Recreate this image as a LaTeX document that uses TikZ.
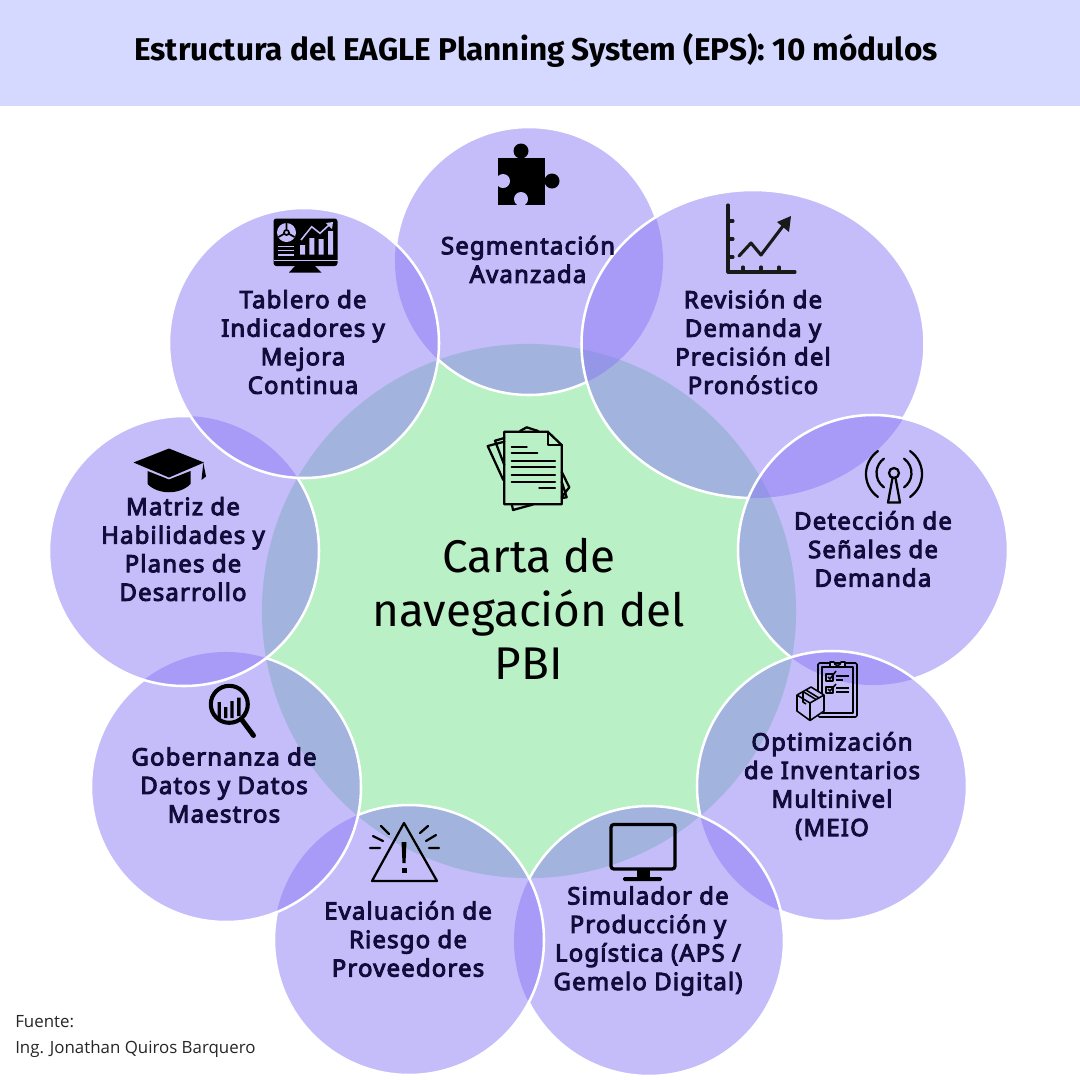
\documentclass[tikz,border=0pt]{standalone}
\usetikzlibrary{shapes.geometric}
\usepackage{fontspec}
\setmainfont{Fira Sans}
\newfontfamily\fuenteEtq[FakeBold=4,LetterSpace=5]{Noto Sans}
\newfontfamily\fuentePie{Open Sans}
\definecolor{banda}{HTML}{D6D9FF}
\definecolor{verde}{HTML}{BAF0C6}
\definecolor{lila}{HTML}{8B79F5}
\definecolor{lilaclaro}{HTML}{C5BCFA}
\definecolor{tinta}{HTML}{120C3A}
\newcommand{\haloon}{\special{pdf:bcolor [0.06 0.04 0.20] [0.36 0.27 0.88]}}
\newcommand{\halooff}{\special{pdf:ecolor}}
\tikzset{
	modulo/.style={circle, fill=lila, fill opacity=0.5, inner sep=0pt, minimum size=6.75cm},
	etiqueta/.style={align=center, text=tinta, font=\fuenteEtq\fontsize{17}{20.3}\selectfont, execute at begin node=\haloon, execute at end node=\halooff},
	icono/.style={line width=2.2pt, line join=round, line cap=round},
	fino/.style={line width=1.6pt, line join=round, line cap=round},
	borde/.style={white, line width=1.8pt}
}
\begin{document}
\begin{tikzpicture}[x=0.025cm, y=-0.025cm]
	\useasboundingbox (0,0) rectangle (1080,1080);
	\fill[banda] (0,0) rectangle (1080,106);
	\node[font=\bfseries\fontsize{22.4}{26}\selectfont] (titulo) at (536,50) {Estructura del EAGLE Planning System (EPS): 10 módulos};

	% circulo central y los nueve modulos
	\node[circle, fill=verde, inner sep=0pt, minimum size=13.35cm] (carta) at (529,611) {};
	\node[modulo, minimum size=6.7cm] (seg) at (529,261) {};
	\node[ellipse, fill=lila, fill opacity=0.5, inner sep=0pt, minimum width=8.58cm, minimum height=7.7cm] (rev) at (753,344) {};
	\node[modulo] (det) at (873,550) {};
	\node[modulo] (opt) at (832,786) {};
	\node[modulo] (sim) at (649,941) {};
	\node[modulo] (eva) at (409,940) {};
	\node[modulo] (gob) at (226,787) {};
	\node[modulo] (mat) at (184,551) {};
	\node[modulo] (tab) at (304,343) {};

	% bordes blancos, cada uno tapado por el circulo de encima
	\foreach \a/\b in {det/opt, opt/sim, sim/eva, eva/gob, gob/mat, mat/tab} {
		\begin{scope}[even odd rule]
			\clip (0,0) rectangle (1080,1080) (\b) circle (135);
			\draw[borde] (\a) circle (135);
		\end{scope}
	}
	\begin{scope}[even odd rule]
		\clip (0,0) rectangle (1080,1080) (det) circle (135);
		\draw[borde] (rev) ellipse (171.5 and 154);
	\end{scope}
	\begin{scope}[even odd rule]
		\clip (0,0) rectangle (1080,1080) (tab) circle (135);
		\clip (0,0) rectangle (1080,1080) (rev) ellipse (171.5 and 154);
		\draw[borde] (seg) circle (134);
	\end{scope}
	\draw[borde] (tab) circle (135);

	% textos
	\node[etiqueta] (tseg) at (528,259.5) {Segmentación\\Avanzada};
	\node[etiqueta] (trev) at (753,342) {Revisión de\\Demanda y\\Precisión del\\Pronóstico};
	\node[etiqueta] (tdet) at (873,549) {Detección de\\Señales de\\Demanda};
	\node[etiqueta] (topt) at (832,786) {Optimización\\de Inventarios\\Multinivel\\(MEIO};
	\node[etiqueta] (tsim) at (648,941) {Simulador de\\Producción y\\Logística (APS /\\Gemelo Digital)};
	\node[etiqueta] (teva) at (408,939) {Evaluación de\\Riesgo de\\Proveedores};
	\node[etiqueta] (tgob) at (224,785) {Gobernanza de\\Datos y Datos\\Maestros};
	\node[etiqueta] (tmat) at (183,549) {Matriz de\\Habilidades y\\Planes de\\Desarrollo};
	\node[etiqueta] (ttab) at (303,342) {Tablero de\\Indicadores y\\Mejora\\Continua};
	\node[align=center, font=\fontsize{32.6}{38.2}\selectfont] (tcarta) at (529,609) {Carta de\\navegación del\\PBI};
	\node[anchor=north west, align=left, inner sep=0pt, text=black!85, font=\fuentePie\fontsize{12}{18.6}\selectfont] (fuente) at (15,1015) {Fuente:\\Ing. Jonathan Quiros Barquero};

	% pieza de rompecabezas
	\fill (498,158) rectangle (545,205);
	\fill (521,151) circle (7.5);
	\fill (552,181) circle (7.5);
	\fill[lilaclaro] (503,181) circle (7) (521,199) circle (7);

	% grafica de revision
	\begin{scope}[icono, draw=black!90]
		\draw (728,205) -- (728,272) -- (795,272);
		\draw (728,221) -- (733,221) (728,239) -- (733,239) (728,257) -- (733,257);
		\draw (743,272) -- (743,267) (761,272) -- (761,267) (779,272) -- (779,267);
		\draw (739,256) -- (751,243) -- (761,255) -- (783,226);
		\fill[black!90] (777,222) -- (791,216) -- (789,232) -- cycle;
	\end{scope}

	% antena
	\begin{scope}[fino]
		\draw (894,473) circle (5);
		\draw (892.5,478) -- (888,502.5) -- (900,502.5) -- (895.5,478);
		\draw (894,473) ++(125:17.5) arc (125:235:17.5);
		\draw (894,473) ++(-55:17.5) arc (-55:55:17.5);
		\draw (894,474) ++(125:28) arc (125:235:28);
		\draw (894,474) ++(-55:28) arc (-55:55:28);
	\end{scope}

	% portapapeles y caja
	\begin{scope}[line width=1.1pt, line join=round]
		\draw[rounded corners=1pt] (818,663) rectangle (857,717);
		\draw (822,667) rectangle (853,713);
		\fill[lilaclaro] (830,667) -- (830,662) -- (834,662) arc (180:0:3.5) -- (845,662) -- (845,667) -- cycle;
		\draw (830,667) -- (830,662) -- (834,662) arc (180:0:3.5) -- (845,662) -- (845,667) -- cycle;
		\draw (826,674) rectangle (833,681) (826,687) rectangle (833,693);
		\draw (828,677) -- (830,679) -- (836,671) (828,689) -- (830,691) -- (836,684);
		\draw (836,676) -- (849,676) (836,680) -- (843,680) (836,688) -- (849,688) (836,692) -- (849,692);
		\filldraw[fill=lilaclaro] (797,695) -- (811,687) -- (824,695) -- (824,711) -- (810,720.5) -- (797,711) -- cycle;
		\draw (797,695) -- (810,703) -- (824,695) (810,703) -- (810,720.5);
		\draw (803,691.5) -- (816,699.5) (806,690) -- (819,698) (803,691.5) -- (803,702) -- (806,704);
	\end{scope}

	% monitor
	\draw[line width=2.3pt, rounded corners=2pt] (611,824.5) rectangle (675,869);
	\fill (637,869) rectangle (650,877);
	\fill[rounded corners=1pt] (623,877) rectangle (662,881);

	% advertencia
	\begin{scope}[fino]
		\draw (404,823) -- (372,881) -- (437,881) -- cycle;
		\draw (370,848) -- (380,848) (373,836) -- (383,841) (381,826) -- (389,834);
		\draw (429,848) -- (439,848) (426,841) -- (436,835) (420,833) -- (428,826);
		\fill (401.5,842) -- (406.5,842) -- (405.5,863) -- (402.5,863) -- cycle;
		\fill (401.5,868) rectangle (406.5,873);
	\end{scope}

	% lupa
	\draw[line width=2.9pt] (229.3,704.3) circle (18.5);
	\draw[line width=3.5pt, line cap=round] (242,720) -- (253.5,735.5);
	\fill (217.5,702) rectangle (220.8,718) (224,707) rectangle (227.3,718) (230.4,701) rectangle (233.7,718) (237.2,697.5) rectangle (240.5,716);

	% birrete
	\fill (169,448.5) -- (204,462.5) -- (169,477.5) -- (133.5,462.5) -- cycle;
	\fill (147.5,471) -- (169,479.5) -- (190.5,471) -- (190.5,484) .. controls (180,495) and (158,495) .. (147.5,484) -- cycle;
	\fill (203.3,463) -- (206,476.5) -- (201.5,480) -- cycle;

	% tablero
	\fill[rounded corners=2pt] (273.5,218.5) rectangle (337.5,266);
	\fill (295,266) -- (315,266) -- (321.5,272.5) -- (289,272.5) -- cycle;
	\begin{scope}[lilaclaro]
		\draw[line width=0.7pt] (273.5,260) -- (337.5,260);
		\fill (286.5,232.5) circle (9.5);
		\draw[black, line width=1.2pt] (286.5,232.5) circle (2.5) (286.5,230) -- (286.5,223) (284.3,233.7) -- (278.5,237) (288.7,233.7) -- (294.5,237);
		\draw[line width=1.1pt] (278,246.7) -- (294,246.7) (278,250.7) -- (294,250.7) (278,255) -- (294,255);
		\fill (300,245) rectangle (305,254.5) (309.3,238) rectangle (314.3,254.5) (318.7,239) rectangle (323.7,254.5) (328,231) rectangle (333,254.5);
		\draw[line width=1.1pt] (301,240) -- (311.7,226.7) -- (320,233.3) -- (329,225);
		\fill (326,223) -- (333,222) -- (332,229) -- cycle;
	\end{scope}

	% documentos
	\begin{scope}[fino]
		\draw (504.3,441.7) -- (487.7,446) -- (503.3,480) (504.3,438) -- (495,440.7) -- (504.3,465);
		\draw (512,505) -- (513,510) -- (533,504.5) (520,431) -- (526.7,427.3) -- (538,431);
		\draw (561.7,471.7) -- (569.3,487.3) -- (561.7,497) (561.7,481.7) -- (566.7,497.3) -- (561.7,498);
		\draw (504.3,431.7) -- (547.7,431.7) -- (561.7,445) -- (561.7,504.3) -- (504.3,504.3) -- cycle;
		\draw (547.7,431.7) -- (547.7,445) -- (561.7,445);
		\draw (511.7,446.7) -- (526.7,446.7) (511.7,452.7) -- (537.3,452.7) (511.7,460.7) -- (555,460.7) (511.7,467.3) -- (555,467.3) (511.7,474.7) -- (555,474.7) (511.7,481.7) -- (555,481.7) (539.3,488.3) -- (555,488.3);
	\end{scope}
\end{tikzpicture}
\end{document}
